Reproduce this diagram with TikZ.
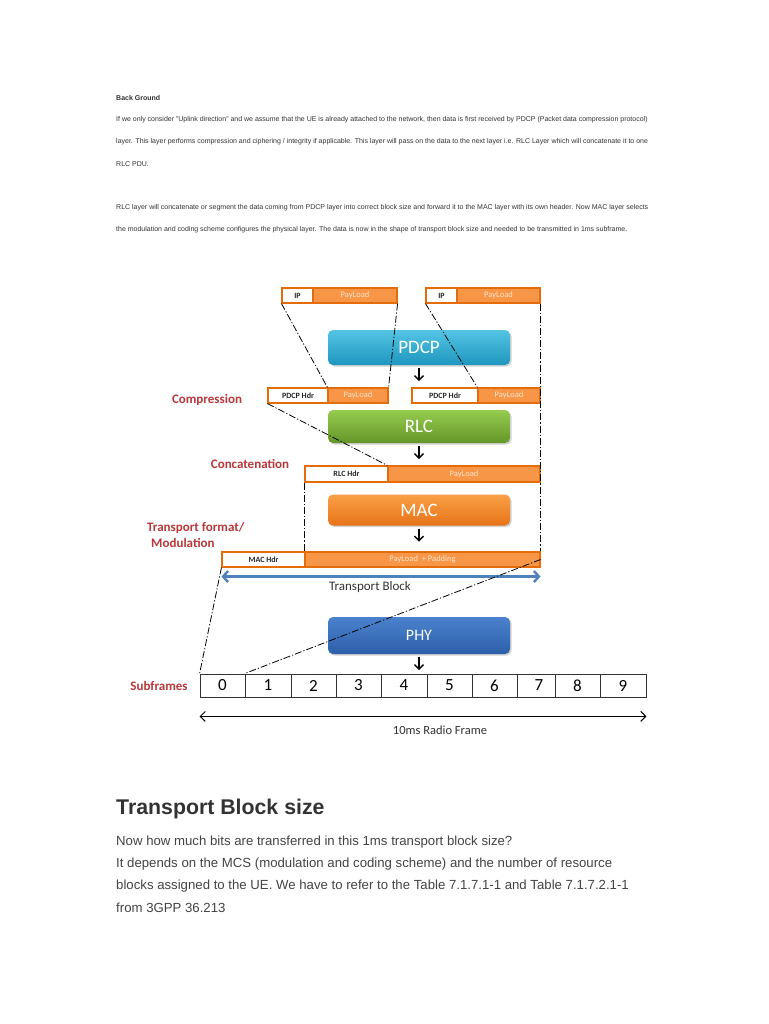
\documentclass[tikz,border=0pt]{standalone}
\usepackage{fontspec}
\setmainfont{Liberation Sans}
\newfontfamily\calfont[Numbers=Lining]{Carlito}
\usetikzlibrary{arrows.meta,shadows}
\definecolor{txt}{HTML}{333333}
\definecolor{body}{HTML}{444444}
\definecolor{orfill}{HTML}{F79646}
\definecolor{ordraw}{HTML}{E46C0A}
\definecolor{pltext}{HTML}{FDE4CF}
\definecolor{lblred}{HTML}{B8383B}
\definecolor{tbblue}{HTML}{4F81BD}
\definecolor{pdcptop}{RGB}{84,196,228}
\definecolor{pdcpbot}{RGB}{30,150,190}
\definecolor{rlctop}{RGB}{150,204,80}
\definecolor{rlcbot}{RGB}{100,150,40}
\definecolor{mactop}{RGB}{250,160,70}
\definecolor{macbot}{RGB}{230,115,25}
\definecolor{phytop}{RGB}{75,130,205}
\definecolor{phybot}{RGB}{45,95,170}
\tikzset{
  para/.style={anchor=west,inner sep=0pt,text=txt,font=\fontsize{7}{8}\selectfont},
  bodytxt/.style={anchor=west,inner sep=0pt,text=body,font=\fontsize{13.2}{16}\selectfont},
  hdrbox/.style={draw=ordraw,fill=white,line width=1.1pt,inner sep=0pt,font=\calfont\bfseries\fontsize{8}{9}\selectfont,text=black!85},
  plbox/.style={draw=ordraw,fill=orfill,line width=1.1pt,inner sep=0pt,font=\calfont\fontsize{8.5}{9}\selectfont,text=pltext},
  layer/.style={rounded corners=5pt,inner sep=0pt,minimum width=182pt,text=white,font=\calfont\fontsize{19}{21}\selectfont,drop shadow={shadow xshift=1.5pt,shadow yshift=-1.5pt,opacity=0.35}},
  ddash/.style={line width=0.8pt,dash pattern=on 7pt off 2pt on 1.2pt off 2pt},
  downarr/.style={line width=1.4pt,-{Straight Barb[length=4.5pt,width=9pt]}},
  lbl/.style={text=lblred,font=\calfont\bfseries\fontsize{13}{14}\selectfont,inner sep=0pt},
  cell/.style={draw=black!80,line width=0.8pt,inner sep=0pt,font=\calfont\fontsize{17}{18}\selectfont,minimum height=23pt}
}
\begin{document}
\begin{tikzpicture}[x=1pt,y=-1pt]
\useasboundingbox[fill=white] (0,0) rectangle (768,1024);
% top paragraph
\node[para,font=\bfseries\fontsize{7}{8}\selectfont] (t0) at (116,98) {Back Ground};
\node[para] (t1) at (116,120) {If we only consider "Uplink direction" and we assume that the UE is already attached to the network, then data is first received by PDCP (Packet data compression protocol)};
\node[para] (t2) at (116,142) {layer. This layer performs compression and ciphering / integrity if applicable. This layer will pass on the data to the next layer i.e. RLC Layer which will concatenate it to one};
\node[para] (t3) at (116,164) {RLC PDU.};
\node[para] (t4) at (116,208) {RLC layer will concatenate or segment the data coming from PDCP layer into correct block size and forward it to the MAC layer with its own header. Now MAC layer selects};
\node[para] (t5) at (116,230) {the modulation and coding scheme configures the physical layer. The data is now in the shape of transport block size and needed to be transmitted in 1ms subframe.};

% packet boxes
\node[hdrbox,minimum width=31pt,minimum height=15pt] (ip1) at (297.5,295.5) {IP};
\node[plbox,minimum width=84pt,minimum height=15pt] (pl1) at (355,295.5) {PayLoad};
\node[hdrbox,minimum width=31pt,minimum height=15pt] (ip2) at (441.5,295.5) {IP};
\node[plbox,minimum width=83pt,minimum height=15pt] (pl2) at (498.5,295.5) {PayLoad};

\node[hdrbox,minimum width=60pt,minimum height=15pt] (ph1) at (298,395.5) {PDCP Hdr};
\node[plbox,minimum width=60pt,minimum height=15pt] (pp1) at (358,395.5) {PayLoad};
\node[hdrbox,minimum width=66pt,minimum height=15pt] (ph2) at (445,395.5) {PDCP Hdr};
\node[plbox,minimum width=62pt,minimum height=15pt] (pp2) at (509,395.5) {PayLoad};

\node[hdrbox,minimum width=83pt,minimum height=16pt] (rh) at (346.5,474) {RLC Hdr};
\node[plbox,minimum width=152pt,minimum height=16pt] (rp) at (464,474) {PayLoad};

\node[hdrbox,minimum width=83pt,minimum height=15pt] (mh) at (263.5,559.5) {MAC Hdr};
\node[plbox,minimum width=235pt,minimum height=15pt] (mp) at (422.5,559.5) {PayLoad\ \ + Padding};

% vertical right line (behind)
\draw[ddash] (pl2.south east) -- (mp.north east);

% layer boxes
\node[layer,minimum height=35pt,top color=pdcptop,bottom color=pdcpbot] (pdcp) at (419,347.5) {PDCP};
\node[layer,minimum height=33pt,top color=rlctop,bottom color=rlcbot] (rlc) at (419,426.5) {RLC};
\node[layer,minimum height=31pt,top color=mactop,bottom color=macbot] (mac) at (419,510) {MAC};
\node[layer,minimum height=37pt,font=\calfont\fontsize{16}{18}\selectfont,top color=phytop,bottom color=phybot] (phy) at (419,635.5) {PHY};

% down arrows
\draw[downarr] (pdcp.south) ++(0,3) -- ++(0,13);
\draw[downarr] (rlc.south) ++(0,3) -- ++(0,13);
\draw[downarr] (mac.south) ++(0,3) -- ++(0,13);
\draw[downarr] (phy.south) ++(0,3) -- ++(0,13);

% labels
\node[lbl] (lcomp) at (207,400) {Compression};
\node[lbl] (lconc) at (250,464) {Concatenation};
\node[lbl,anchor=west] (ltf) at (147,528) {Transport format/};
\node[lbl,anchor=west] (lmod) at (151,543) {Modulation};
\node[lbl,font=\calfont\bfseries\fontsize{13}{14}\selectfont] (lsub) at (159,686) {Subframes};

% transport block arrow
\draw[tbblue,line width=2.4pt,{Straight Barb[length=5pt,width=11pt]}-{Straight Barb[length=5pt,width=11pt]}] (mh.south west) ++(0,9) coordinate (tba) -- (mp.south east |- tba) coordinate (tbb);
\node[text=txt,font=\calfont\fontsize{13}{14}\selectfont,inner sep=0pt] (tbl) at (370,587) {Transport Block};

% subframes
\node[cell,minimum width=45pt] (sf0) at (222.5,685.5) {0};
\node[cell,minimum width=46pt] (sf1) at (268,685.5) {1};
\node[cell,minimum width=45pt] (sf2) at (313.5,685.5) {2};
\node[cell,minimum width=45pt] (sf3) at (358.5,685.5) {3};
\node[cell,minimum width=46pt] (sf4) at (404,685.5) {4};
\node[cell,minimum width=45pt] (sf5) at (449.5,685.5) {5};
\node[cell,minimum width=45pt] (sf6) at (494.5,685.5) {6};
\node[cell,minimum width=38pt] (sf7) at (536,685.5) {\hspace*{6pt}7};
\node[cell,minimum width=45pt] (sf8) at (577.5,685.5) {8};
\node[cell,minimum width=46pt] (sf9) at (623,685.5) {9};

\draw[line width=1pt,{Straight Barb[length=5pt,width=10pt]}-{Straight Barb[length=5pt,width=10pt]}] (sf0.south west) ++(0,19) coordinate (rfa) -- (sf9.south east |- rfa) coordinate (rfb);
\node[text=txt,font=\calfont\fontsize{12.5}{14}\selectfont,inner sep=0pt] (rfl) at (440,730) {10ms Radio Frame};

% dash-dot mapping lines
\draw[ddash] (ip1.south west) -- (pp1.north west);
\draw[ddash] (pl1.south east) -- (pp1.north east);
\draw[ddash] (ip2.south west) -- (pp2.north west);
\draw[ddash] (ph1.south west) -- (rp.north west);
\draw[ddash] (rh.south west) -- (mp.north west);
\draw[ddash] (mh.south west) -- (sf0.north west);
\draw[ddash] (mp.east) -- (sf1.north west);

% bottom text
\node[anchor=west,inner sep=0pt,text=txt,font=\bfseries\fontsize{21.3}{24}\selectfont] (h1) at (116,809) {Transport Block size};
\node[bodytxt] (b1) at (116,842) {Now how much bits are transferred in this 1ms transport block size?};
\node[bodytxt] (b2) at (116,864) {It depends on the MCS (modulation and coding scheme) and the number of resource};
\node[bodytxt] (b3) at (116,886) {blocks assigned to the UE. We have to refer to the Table 7.1.7.1-1 and Table 7.1.7.2.1-1};
\node[bodytxt] (b4) at (116,908) {from 3GPP 36.213};
\end{tikzpicture}
\end{document}
